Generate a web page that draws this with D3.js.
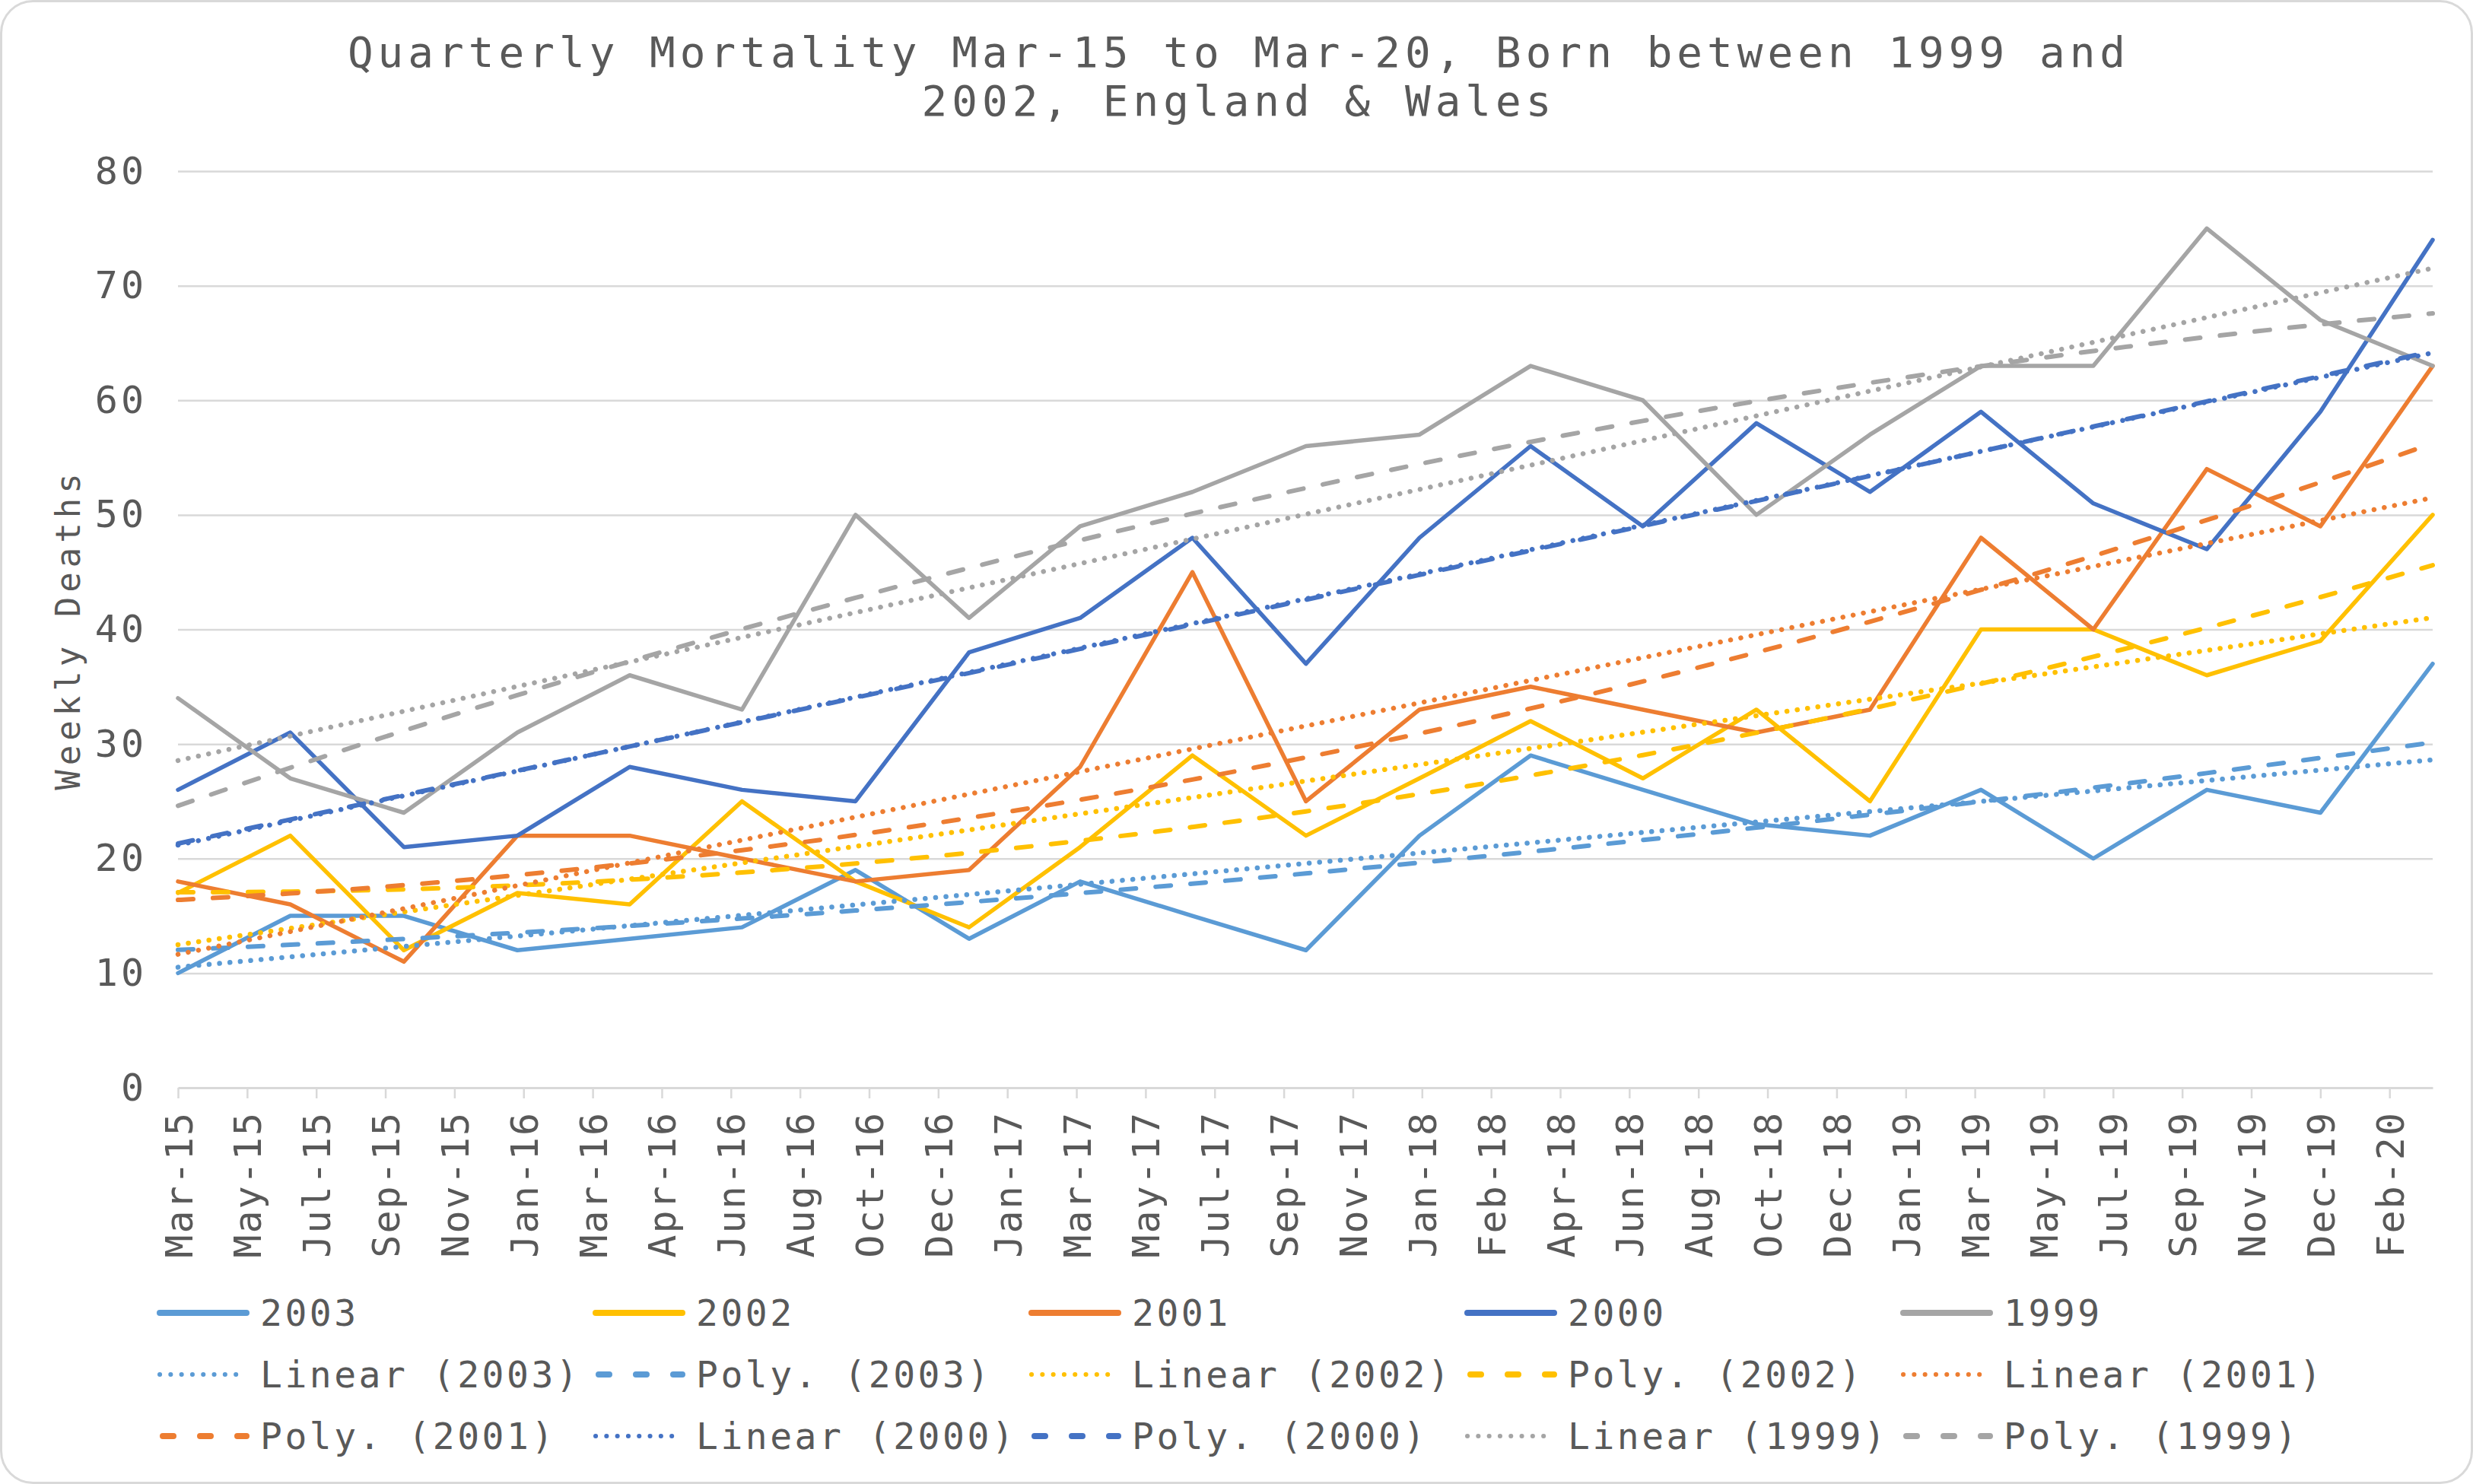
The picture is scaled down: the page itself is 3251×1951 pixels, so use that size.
<!DOCTYPE html>
<html>
<head>
<meta charset="utf-8">
<script src="https://cdn.jsdelivr.net/npm/d3@7"></script>
<style>
  html, body { margin: 0; padding: 0; background: #fff; }
  svg { display: block; }
  text { fill: #595959; font-family: "DejaVu Sans Mono", monospace; }
</style>
</head>
<body>
<div id="chart"></div>
<script>
// Quarterly mortality by birth year, with linear and poly trendlines

const titleLines = ['Quarterly Mortality Mar-15 to Mar-20, Born between 1999 and', '2002, England & Wales'];
const yTitle = 'Weekly Deaths';

const quarterDates = [
    '2015-03-31', '2015-06-30', '2015-09-30', '2015-12-31',
    '2016-03-31', '2016-06-30', '2016-09-30', '2016-12-31',
    '2017-03-31', '2017-06-30', '2017-09-30', '2017-12-31',
    '2018-03-31', '2018-06-30', '2018-09-30', '2018-12-31',
    '2019-03-31', '2019-06-30', '2019-09-30', '2019-12-31',
    '2020-03-31'
];

const seriesNames = ['2003', '2002', '2001', '2000', '1999'];
const deaths2003 = [10, 15, 15, 12, 13, 14, 19, 13, 18, 15, 12, 22, 29, 26, 23, 22, 26, 20, 26, 24, 37];
const deaths2002 = [17, 22, 12, 17, 16, 25, 18, 14, 21, 29, 22, 27, 32, 27, 33, 25, 40, 40, 36, 39, 50];
const deaths2001 = [18, 16, 11, 22, 22, 20, 18, 19, 28, 45, 25, 33, 35, 33, 31, 33, 48, 40, 54, 49, 63];
const deaths2000 = [26, 31, 21, 22, 28, 26, 25, 38, 41, 48, 37, 48, 56, 49, 58, 52, 59, 51, 47, 59, 74];
const deaths1999 = [34, 27, 24, 31, 36, 33, 50, 41, 49, 52, 56, 57, 63, 60, 50, 57, 63, 63, 75, 67, 63];
const seriesValues = [deaths2003, deaths2002, deaths2001, deaths2000, deaths1999];
const seriesColors = ['#5B9BD5', '#FFC000', '#ED7D31', '#4472C4', '#A5A5A5'];

const yTicks = [0, 10, 20, 30, 40, 50, 60, 70, 80];
const xTickLabels = [
    'Mar-15', 'May-15', 'Jul-15', 'Sep-15', 'Nov-15', 'Jan-16', 'Mar-16', 'Apr-16', 'Jun-16',
    'Aug-16', 'Oct-16', 'Dec-16', 'Jan-17', 'Mar-17', 'May-17', 'Jul-17', 'Sep-17', 'Nov-17',
    'Jan-18', 'Feb-18', 'Apr-18', 'Jun-18', 'Aug-18', 'Oct-18', 'Dec-18', 'Jan-19', 'Mar-19',
    'May-19', 'Jul-19', 'Sep-19', 'Nov-19', 'Dec-19', 'Feb-20'
];
const xTickStepDays = 56;

// Canvas and plot area
const W = 3251, H = 1951;
const plot = { left: 234, right: 3198, top: 225, bottom: 1430 };

const parseDate = d3.timeParse('%Y-%m-%d');
const dates = quarterDates.map(parseDate);

const svg = d3.select('#chart').append('svg')
    .attr('width', W)
    .attr('height', H);

svg.append('rect')
    .attr('x', 1.5).attr('y', 1.5)
    .attr('width', W - 3).attr('height', H - 3)
    .attr('rx', 42).attr('ry', 42)
    .style('fill', '#fff')
    .style('stroke', '#D9D9D9')
    .style('stroke-width', 3);

// Scales
const x = d3.scaleTime()
    .domain(d3.extent(dates))
    .range([plot.left, plot.right]);

const y = d3.scaleLinear()
    .domain([0, 80])
    .range([plot.bottom, plot.top]);

// Title
const title = svg.append('text')
    .attr('text-anchor', 'middle')
    .style('font-size', '56px')
    .style('letter-spacing', '6px');
titleLines.forEach((line, i) => {
    title.append('tspan')
        .attr('x', W / 2 + 3)
        .attr('y', 88 + i * 64)
        .text(line);
});

// Gridlines
svg.append('g')
    .attr('class', 'grid')
    .attr('transform', `translate(${plot.left},0)`)
    .call(d3.axisLeft(y).tickValues(yTicks.slice(1)).tickSize(-(plot.right - plot.left)).tickFormat(''))
    .call(g => g.select('.domain').remove())
    .call(g => g.selectAll('line').style('stroke', '#D9D9D9').style('stroke-width', 2.5));

// Y axis labels
svg.append('g')
    .attr('transform', `translate(${plot.left},0)`)
    .call(d3.axisLeft(y).tickValues(yTicks).tickSize(0).tickPadding(41))
    .call(g => g.select('.domain').remove())
    .call(g => g.selectAll('text')
        .style('font-size', '50px')
        .style('letter-spacing', '4px')
        .style('font-family', '"DejaVu Sans Mono", monospace')
        .style('fill', '#595959'));

// X axis
const startDate = dates[0];
const xTickDates = xTickLabels.map((_, i) => d3.timeDay.offset(startDate, i * xTickStepDays));

const xAxis = svg.append('g')
    .attr('transform', `translate(0,${plot.bottom})`)
    .call(d3.axisBottom(x).tickValues(xTickDates).tickSize(14).tickSizeOuter(0)
        .tickFormat((d, i) => xTickLabels[i]));
xAxis.select('.domain').style('stroke', '#D9D9D9').style('stroke-width', 3);
xAxis.selectAll('.tick line').style('stroke', '#D9D9D9').style('stroke-width', 2.5);
xAxis.selectAll('.tick text')
    .attr('transform', 'rotate(-90)')
    .attr('text-anchor', 'end')
    .attr('x', -31)
    .attr('y', 0)
    .attr('dy', '0.36em')
    .style('font-size', '50px')
    .style('letter-spacing', '2px')
    .style('font-family', '"DejaVu Sans Mono", monospace')
    .style('fill', '#595959');

// Y axis title
svg.append('text')
    .attr('transform', `translate(89,${(plot.top + plot.bottom) / 2}) rotate(-90)`)
    .attr('text-anchor', 'middle')
    .attr('dy', '0.36em')
    .style('font-size', '44px')
    .style('letter-spacing', '6px')
    .text(yTitle);

// Least squares fit of given degree, x in days from start (scaled)
const span = d3.timeDay.count(dates[0], dates[dates.length - 1]);
const tOf = d => d3.timeDay.count(dates[0], d) / span;

function polyFit(values, degree) {
    const n = degree + 1;
    const A = Array.from({ length: n }, () => new Array(n + 1).fill(0));
    values.forEach((v, k) => {
        const t = tOf(dates[k]);
        for (let i = 0; i < n; i++) {
            for (let j = 0; j < n; j++) A[i][j] += Math.pow(t, i + j);
            A[i][n] += v * Math.pow(t, i);
        }
    });
    for (let i = 0; i < n; i++) {
        let p = i;
        for (let r = i + 1; r < n; r++) if (Math.abs(A[r][i]) > Math.abs(A[p][i])) p = r;
        [A[i], A[p]] = [A[p], A[i]];
        for (let r = 0; r < n; r++) {
            if (r === i) continue;
            const f = A[r][i] / A[i][i];
            for (let c = i; c <= n; c++) A[r][c] -= f * A[i][c];
        }
    }
    const coef = A.map((row, i) => row[n] / row[i]);
    return t => coef.reduce((s, c, i) => s + c * Math.pow(t, i), 0);
}

const line = d3.line()
    .x(d => x(d.date))
    .y(d => y(d.value));

const trendLine = d3.line()
    .x(d => x(d.date))
    .y(d => y(d.value))
    .curve(d3.curveMonotoneX);

const dotDash = '0.1,13.6';
const polyDash = '20,26';

// Series lines
const seriesG = svg.append('g').attr('class', 'series');
seriesNames.forEach((name, s) => {
    const pts = seriesValues[s].map((v, k) => ({ date: dates[k], value: v }));
    seriesG.append('path')
        .datum(pts)
        .attr('d', line)
        .style('fill', 'none')
        .style('stroke', seriesColors[s])
        .style('stroke-width', 5.5)
        .style('stroke-linejoin', 'round')
        .style('stroke-linecap', 'round');
});

// Trendlines
const trendG = svg.append('g').attr('class', 'trends');
seriesNames.forEach((name, s) => {
    const lin = polyFit(seriesValues[s], 1);
    const quad = polyFit(seriesValues[s], 2);
    const linPts = [dates[0], dates[dates.length - 1]].map(d => ({ date: d, value: lin(tOf(d)) }));
    const quadPts = dates.map(d => ({ date: d, value: quad(tOf(d)) }));
    trendG.append('path')
        .datum(linPts)
        .attr('d', trendLine)
        .style('fill', 'none')
        .style('stroke', seriesColors[s])
        .style('stroke-width', 6.5)
        .style('stroke-linecap', 'round')
        .style('stroke-dasharray', dotDash);
    trendG.append('path')
        .datum(quadPts)
        .attr('d', trendLine)
        .style('fill', 'none')
        .style('stroke', seriesColors[s])
        .style('stroke-width', 6)
        .style('stroke-linecap', 'round')
        .style('stroke-dasharray', polyDash);
});

// Legend
const legendItems = seriesNames.map((name, s) => ({ label: name, color: seriesColors[s], type: 'solid' }));
seriesNames.forEach((name, s) => {
    legendItems.push({ label: `Linear (${name})`, color: seriesColors[s], type: 'dot' });
    legendItems.push({ label: `Poly. (${name})`, color: seriesColors[s], type: 'dash' });
});

const legend = svg.selectAll('.legend')
    .data(legendItems)
    .enter()
    .append('g')
    .attr('class', 'legend')
    .attr('transform', (d, i) => `translate(${210 + (i % 5) * 573},${1726 + Math.floor(i / 5) * 81})`);

legend.append('line')
    .attr('x1', d => d.type === 'dash' ? 4 : 0)
    .attr('x2', 114)
    .style('stroke', d => d.color)
    .style('stroke-width', d => d.type === 'dot' ? 6 : 8)
    .style('stroke-linecap', 'round')
    .style('stroke-dasharray', d => d.type === 'dot' ? '0.1,14.2' : d.type === 'dash' ? '14,35' : null);

legend.append('text')
    .attr('x', 132)
    .attr('dy', '0.36em')
    .style('font-size', '48px')
    .style('letter-spacing', '3.5px')
    .text(d => d.label);
</script>
</body>
</html>
